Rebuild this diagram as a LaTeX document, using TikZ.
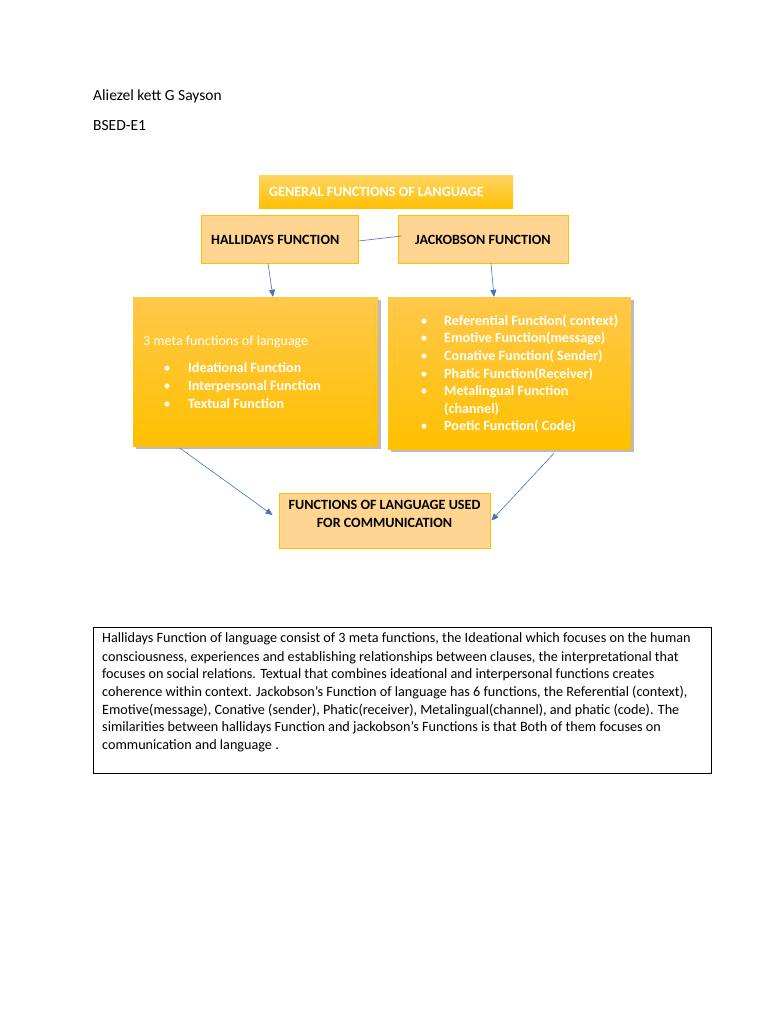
\documentclass[tikz,border=0pt]{standalone}
\usepackage{fontspec}
\setmainfont{Carlito}
\usetikzlibrary{arrows.meta,shadows,calc}
\definecolor{orA}{HTML}{FFC000}
\definecolor{orTop}{HTML}{FFD460}
\definecolor{orTopB}{HTML}{FFC84A}
\definecolor{lightor}{HTML}{FFD591}
\definecolor{linkblue}{HTML}{4472C4}
\begin{document}
\begin{tikzpicture}[x=1pt,y=-1pt,
  lbl/.style={anchor=base west,inner sep=0pt,font=\fontsize{14}{16}\selectfont},
  blbl/.style={lbl,font=\fontsize{14.1}{16}\selectfont\bfseries},
  wlbl/.style={blbl,text=white},
  para/.style={anchor=base west,inner sep=0pt,font=\fontsize{14.2}{16}\selectfont},
  lightbox/.style={draw=orA,fill=lightor,line width=0.8pt,inner sep=0pt},
  gradbox/.style={draw=none,top color=orTopB,bottom color=orA,inner sep=0pt,
     drop shadow={shadow xshift=2.5pt,shadow yshift=-2.5pt,fill=black!45,opacity=0.6}},
  link/.style={draw=linkblue,line width=0.6pt},
  arr/.style={link,-{Triangle[width=6pt,length=7pt]}}
]
\useasboundingbox[fill=white] (0,0) rectangle (768,1024);

\node[anchor=base west,inner sep=0pt,font=\fontsize{15.5}{18}\selectfont] (name) at (93,101) {Aliezel kett G Sayson};
\node[anchor=base west,inner sep=0pt,font=\fontsize{15.5}{18}\selectfont] (class) at (93,131) {BSED-E1};

% boxes
\node[draw=none,top color=orTop,bottom color=orA,minimum width=254pt,minimum height=33pt,inner sep=0pt] (gen) at (386,192.5) {};
\node[lightbox,minimum width=157pt,minimum height=48pt] (hall) at (279.5,239) {};
\node[lightbox,minimum width=170pt,minimum height=48pt] (jack) at (483,239) {};
\node[gradbox,minimum width=245pt,minimum height=149pt] (left) at (255.5,371.5) {};
\node[gradbox,minimum width=243pt,minimum height=152pt] (right) at (509.5,373) {};
\node[lightbox,minimum width=211pt,minimum height=55pt] (comm) at (384.5,520.5) {};
\node[draw=black,line width=0.8pt,minimum width=618pt,minimum height=146pt,inner sep=0pt] (pbox) at (402,700) {};

% labels
\node[wlbl] (gent) at (269,197) {GENERAL FUNCTIONS OF LANGUAGE};
\node[blbl] (hallt) at (211,244) {HALLIDAYS FUNCTION};
\node[blbl] (jackt) at (415,244) {JACKOBSON FUNCTION};
\node[lbl,text=white] (metat) at (143,345) {3 meta functions of language};
\foreach \t/\y [count=\i] in {Ideational Function/372,Interpersonal Function/390,Textual Function/408}{
  \node[wlbl] (lb\i) at (188,\y) {\t};
  \node[anchor=base,inner sep=0pt,text=white,font=\fontsize{14}{16}\selectfont] (lbb\i) at (167,\y) {•};
}
\foreach \t/\y [count=\i] in {Referential Function( context)/325,Emotive Function(message)/342,Conative Function( Sender)/360,Phatic Function(Receiver)/378,Metalingual Function/395,Poetic Function( Code)/430}{
  \node[wlbl] (rb\i) at (444,\y) {\t};
  \node[anchor=base,inner sep=0pt,text=white,font=\fontsize{14}{16}\selectfont] (rbb\i) at (424,\y) {•};
}
\node[wlbl] (rch) at (444,413) {(channel)};
\node[blbl,anchor=base] (comm1) at (384.5,509) {FUNCTIONS OF LANGUAGE USED};
\node[blbl,anchor=base] (comm2) at (384.5,527) {FOR COMMUNICATION};

% paragraph
\node[para] (p1) at (102,642) {Hallidays Function of language consist of 3 meta functions, the Ideational which focuses on the human};
\node[para] (p2) at (102,661) {consciousness, experiences and establishing relationships between clauses, the interpretational that};
\node[para] (p3) at (102,678) {focuses on social relations. Textual that combines ideational and interpersonal functions creates};
\node[para] (p4) at (102,696) {coherence within context. Jackobson’s Function of language has 6 functions, the Referential (context),};
\node[para] (p5) at (102,714) {Emotive(message), Conative (sender), Phatic(receiver), Metalingual(channel), and phatic (code). The};
\node[para] (p6) at (102,731) {similarities between hallidays Function and jackobson’s Functions is that Both of them focuses on};
\node[para] (p7) at (102,749) {communication and language .};

% connectors
\draw[link] ([yshift=-2pt]hall.east) -- ([xshift=4pt,yshift=3pt]jack.west);
\draw[arr] ([xshift=-11.5pt]hall.south) -- ([xshift=17.5pt]left.north);
\draw[arr] ([xshift=8pt]jack.south) -- ([xshift=-15.5pt]right.north);
\draw[arr] ([xshift=-75.5pt,yshift=-2pt]left.south) -- ([xshift=-6pt,yshift=5.5pt]comm.west);
\draw[arr] ([xshift=44.5pt,yshift=-4pt]right.south) -- ([xshift=1pt]comm.east);
\end{tikzpicture}
\end{document}
